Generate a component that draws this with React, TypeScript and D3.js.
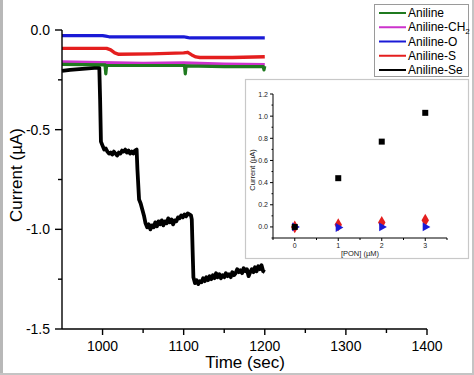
import React, { useEffect } from 'react'
import * as d3 from 'd3'

// main panel: current traces vs time
const seTime = [950, 960, 975, 990, 996, 997, 998, 1000, 1002, 1004, 1006, 1008, 1010, 1012, 1014, 1016, 1018, 1020, 1022, 1024, 1026, 1028, 1030, 1032, 1034, 1036, 1038, 1040, 1042, 1043, 1045, 1047, 1049, 1051, 1053, 1055, 1057, 1059, 1061, 1063, 1065, 1067, 1069, 1071, 1073, 1075, 1077, 1079, 1081, 1083, 1085, 1087, 1089, 1091, 1093, 1095, 1097, 1099, 1101, 1103, 1105, 1107, 1109, 1110, 1111, 1112, 1114, 1116, 1118, 1120, 1122, 1124, 1126, 1128, 1130, 1132, 1134, 1136, 1138, 1140, 1142, 1144, 1146, 1148, 1150, 1152, 1154, 1156, 1158, 1160, 1162, 1164, 1166, 1168, 1170, 1172, 1174, 1176, 1178, 1180, 1182, 1184, 1186, 1188, 1190, 1192, 1194, 1196, 1198, 1200]
const seCurrent = [-0.205, -0.2, -0.195, -0.19, -0.19, -0.35, -0.56, -0.58, -0.6, -0.595, -0.61, -0.62, -0.615, -0.625, -0.61, -0.62, -0.63, -0.615, -0.62, -0.605, -0.61, -0.6, -0.615, -0.605, -0.62, -0.61, -0.62, -0.605, -0.6, -0.7, -0.85, -0.87, -0.9, -0.93, -0.97, -0.99, -0.975, -1.0, -0.98, -0.99, -0.965, -0.985, -0.96, -0.975, -0.955, -0.98, -0.96, -0.97, -0.945, -0.965, -0.95, -0.975, -0.955, -0.96, -0.94, -0.945, -0.93, -0.94, -0.925, -0.935, -0.92, -0.925, -0.93, -0.95, -1.1, -1.24, -1.27, -1.255, -1.275, -1.26, -1.265, -1.245, -1.26, -1.24, -1.255, -1.235, -1.25, -1.23, -1.245, -1.22, -1.24, -1.225, -1.245, -1.23, -1.24, -1.22, -1.235, -1.225, -1.24, -1.215, -1.23, -1.22, -1.2, -1.215, -1.205, -1.22, -1.195, -1.21, -1.2, -1.235, -1.215, -1.2, -1.215, -1.19, -1.21, -1.185, -1.2, -1.18, -1.21, -1.215]

const sTime = [950, 1005, 1010, 1015, 1020, 1060, 1100, 1105, 1110, 1115, 1120, 1160, 1200]
const sCurrent = [-0.092, -0.092, -0.1, -0.115, -0.122, -0.12, -0.115, -0.112, -0.125, -0.135, -0.138, -0.138, -0.134]

const oTime = [950, 1000, 1004, 1008, 1100, 1104, 1108, 1200]
const oCurrent = [-0.028, -0.028, -0.031, -0.034, -0.034, -0.037, -0.04, -0.04]

const ch2Time = [950, 1000, 1050, 1100, 1150, 1200]
const ch2Current = [-0.16, -0.164, -0.167, -0.165, -0.171, -0.174]

const anTime = [950, 1003, 1004, 1005, 1050, 1101, 1102, 1103, 1150, 1198, 1199, 1200]
const anCurrent = [-0.172, -0.175, -0.22, -0.178, -0.178, -0.178, -0.22, -0.18, -0.184, -0.183, -0.2, -0.181]

const seriesNames = ['Aniline', 'Aniline-CH', 'Aniline-O', 'Aniline-S', 'Aniline-Se']
const seriesColors = ['#1f7a1f', '#cc33cc', '#1a1ad6', '#e41e1e', '#000000']

const mainXTicks = [1000, 1100, 1200, 1300, 1400]
const mainXMinor = [1050, 1150, 1250, 1350]
const mainYTicks = [0, -0.5, -1.0, -1.5]
const mainYMinor = [-0.25, -0.75, -1.25]

// inset: current vs [PON]
const ponConc = [0, 1, 2, 3]
const insetSe = [0, 0.44, 0.77, 1.03]
const insetS = [0, 0.02, 0.04, 0.06]
const insetO = [0, -0.005, 0, 0]
const insetXTicks = [0, 1, 2, 3]
const insetXMinor = [-0.5, 0.5, 1.5, 2.5, 3.5]
const insetYTicks = [0, 0.2, 0.4, 0.6, 0.8, 1.0, 1.2]
const insetYMinor = [-0.1, 0.1, 0.3, 0.5, 0.7, 0.9, 1.1]

const W = 474
const H = 375
const FONT = '"Liberation Sans", Arial, sans-serif'

export default function App() {
  useEffect(() => {
    document.body.style.margin = '0'
  }, [])

  const x = d3.scaleLinear().domain([950, 1400]).range([62, 427])
  const y = d3.scaleLinear().domain([-1.5, 0]).range([329, 30])

  const line = d3.line<[number, number]>().x(d => x(d[0])).y(d => y(d[1]))
  const zip = (t: number[], v: number[]) => t.map((tt, i) => [tt, v[i]] as [number, number])

  const traces = [
    { d: zip(seTime, seCurrent), c: seriesColors[4], w: 3.8 },
    { d: zip(sTime, sCurrent), c: seriesColors[3], w: 3.4 },
    { d: zip(oTime, oCurrent), c: seriesColors[2], w: 3.2 },
    { d: zip(ch2Time, ch2Current), c: seriesColors[1], w: 3.2 },
    { d: zip(anTime, anCurrent), c: seriesColors[0], w: 3.2 },
  ]

  const ix = d3.scaleLinear().domain([-0.5, 3.5]).range([273, 447])
  const iy = d3.scaleLinear().domain([-0.1, 1.2]).range([238, 94])

  const legendY = d3.scalePoint<number>().domain([0, 1, 2, 3, 4]).range([13, 70])

  const diamond = d3.symbol().type(d3.symbolDiamond).size(48)()
  const square = d3.symbol().type(d3.symbolSquare).size(36)()
  const tri = d3.symbol().type(d3.symbolTriangle).size(34)()

  return (
    <svg width={W} height={H} style={{ display: 'block', background: '#fff' }} fontFamily={FONT}>
      <rect x={0} y={0} width={W} height={H} fill="#fff" />

      {/* traces */}
      {traces.map((t, i) => (
        <path key={i} d={line(t.d) || ''} fill="none" stroke={t.c} strokeWidth={t.w} strokeLinejoin="round" />
      ))}

      {/* main axes */}
      <line x1={62} x2={62} y1={y(0)} y2={y(-1.5)} stroke="#000" strokeWidth={1.4} />
      <line x1={62} x2={427} y1={329} y2={329} stroke="#000" strokeWidth={1.4} />
      {mainYTicks.map(v => (
        <g key={v}>
          <line x1={55} x2={62} y1={y(v)} y2={y(v)} stroke="#000" strokeWidth={1.4} />
          <text x={50} y={y(v) + 5} textAnchor="end" fontSize={14}>{v.toFixed(1)}</text>
        </g>
      ))}
      {mainYMinor.map(v => (
        <line key={v} x1={58} x2={62} y1={y(v)} y2={y(v)} stroke="#000" strokeWidth={1.4} />
      ))}
      {mainXTicks.map(v => (
        <g key={v}>
          <line x1={x(v)} x2={x(v)} y1={329} y2={335} stroke="#000" strokeWidth={1.4} />
          <text x={x(v)} y={351} textAnchor="middle" fontSize={14}>{v}</text>
        </g>
      ))}
      {mainXMinor.map(v => (
        <line key={v} x1={x(v)} x2={x(v)} y1={329} y2={333} stroke="#000" strokeWidth={1.4} />
      ))}
      <text x={245} y={368} textAnchor="middle" fontSize={17}>Time (sec)</text>
      <text transform="translate(22,175) rotate(-90)" textAnchor="middle" fontSize={17}>Current (µA)</text>

      {/* legend */}
      <rect x={374.5} y={4.5} width={94} height={72} fill="#fff" stroke="#9a9a9a" strokeWidth={1} />
      {seriesNames.map((n, i) => (
        <g key={n}>
          <line x1={379} x2={406} y1={legendY(i)!} y2={legendY(i)!} stroke={seriesColors[i]} strokeWidth={2} />
          <text x={408} y={legendY(i)! + 4} fontSize={12}>
            {n}
            {i === 1 && <tspan fontSize={8} dy={3}>2</tspan>}
          </text>
        </g>
      ))}

      {/* inset */}
      <rect x={245.5} y={79.5} width={223} height={179} fill="#fff" stroke="#c8c8c8" strokeWidth={1.2} />
      <line x1={273} x2={273} y1={94} y2={238} stroke="#000" strokeWidth={1} />
      <line x1={273} x2={447} y1={238} y2={238} stroke="#000" strokeWidth={1} />
      {insetYTicks.map(v => (
        <g key={v}>
          <line x1={270} x2={273} y1={iy(v)} y2={iy(v)} stroke="#000" strokeWidth={1} />
          <text x={268} y={iy(v) + 2.5} textAnchor="end" fontSize={7} fill="#222">{v.toFixed(1)}</text>
        </g>
      ))}
      {insetYMinor.map(v => (
        <line key={v} x1={271.5} x2={273} y1={iy(v)} y2={iy(v)} stroke="#000" strokeWidth={1} />
      ))}
      {insetXTicks.map(v => (
        <g key={v}>
          <line x1={ix(v)} x2={ix(v)} y1={238} y2={241} stroke="#000" strokeWidth={1} />
          <text x={ix(v)} y={248} textAnchor="middle" fontSize={7} fill="#222">{v}</text>
        </g>
      ))}
      {insetXMinor.map(v => (
        <line key={v} x1={ix(v)} x2={ix(v)} y1={238} y2={240} stroke="#000" strokeWidth={1} />
      ))}
      <text x={360} y={256} textAnchor="middle" fontSize={7.5} fill="#222">[PON] (µM)</text>
      <text transform="translate(254.5,170) rotate(-90)" textAnchor="middle" fontSize={7.5} fill="#222">Current (µA)</text>

      {ponConc.map((c, i) => (
        <path key={'s' + i} d={diamond || ''} transform={`translate(${ix(c)},${iy(insetS[i])})`} fill="#e41e1e" />
      ))}
      {ponConc.map((c, i) => (
        <path key={'o' + i} d={tri || ''} transform={`translate(${ix(c)},${iy(insetO[i])}) rotate(90)`} fill="#1a1ad6" />
      ))}
      {ponConc.map((c, i) => (
        <path key={'se' + i} d={square || ''} transform={`translate(${ix(c)},${iy(insetSe[i])})`} fill="#000" />
      ))}

      {/* photo frame */}
      <rect x={0} y={0} width={3} height={H} fill="#b8b8b8" />
      <rect x={472} y={0} width={2} height={H} fill="#c4c4c4" />
      <rect x={0} y={373} width={W} height={2} fill="#c4c4c4" />
    </svg>
  )
}
